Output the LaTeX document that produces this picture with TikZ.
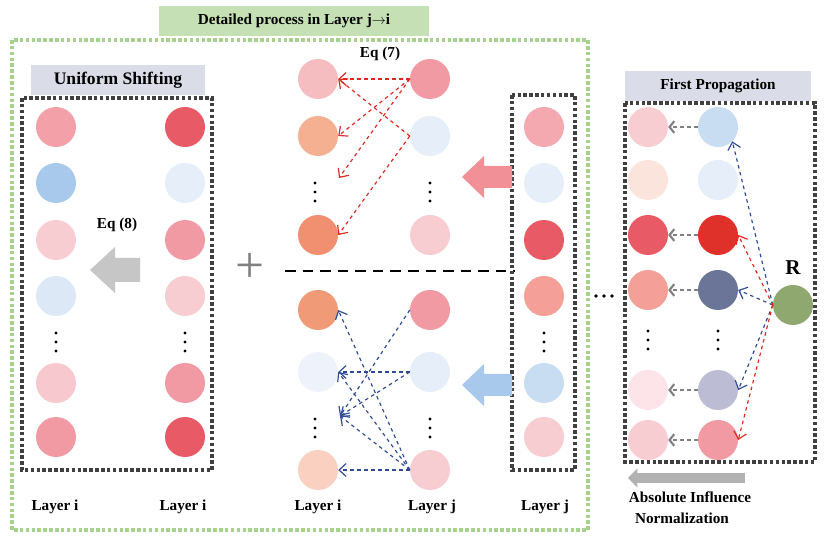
\documentclass[tikz,border=0pt]{standalone}
\usepackage{fontspec}
\setmainfont{Liberation Serif}
\usetikzlibrary{arrows.meta}
\definecolor{gbox}{HTML}{A9D18E}
\definecolor{gtit}{HTML}{C5E0B4}
\definecolor{hdrc}{HTML}{DADCE8}
\definecolor{bln}{HTML}{2F4A9A}
\definecolor{rln}{HTML}{E0281E}
\begin{document}
\begin{tikzpicture}[x=0.03cm,y=-0.03cm,
 c/.style={circle,minimum size=1.2cm,inner sep=0pt,fill=#1},
 lab/.style={font=\bfseries\fontsize{13}{15}\selectfont},
 hdr/.style={fill=#1,minimum height=0.9cm,font=\bfseries\fontsize{13}{15}\selectfont},
 dbox/.style={draw=black!75,line width=3.2pt,dash pattern=on 3pt off 2pt},
 rd/.style={draw=rln,dashed,line width=1pt,-{Straight Barb[length=6pt,width=11pt]}},
 bd/.style={draw=bln,dashed,line width=1pt,-{Straight Barb[length=6pt,width=11pt]}},
 ga/.style={draw=gray,dashed,line width=1.8pt,-{Straight Barb[length=4pt,width=10pt]}}]
\newcommand{\vdt}[2]{\fill (#1,#2-9) circle (1.7) (#1,#2) circle (1.7) (#1,#2+9) circle (1.7);}
\useasboundingbox (0,0) rectangle (832,543);
\fill[white] (0,0) rectangle (832,543);
% outer
\draw[draw=gbox,line width=3.2pt,dash pattern=on 3pt off 2pt] (12,40) rectangle (588,530);
\node[hdr=gtit,minimum width=8.1cm] (title) at (294,21) {Detailed process in Layer j$\rightarrow$i};
% Uniform shifting
\node[hdr=hdrc,minimum width=5.2cm,font=\bfseries\fontsize{15}{17}\selectfont] (us) at (118,80) {Uniform Shifting};
\draw[dbox] (22,98) rectangle (212,470);
\foreach \y/\a/\b [count=\k] in {127/F4A0A8/E85A66,183/A8C8EC/E6EEF9,240/F8CDD2/F29AA4,296/DDE8F6/F8CDD2,383/F8C8CF/F29AA4,437/F29AA4/E85A66}{
 \definecolor{ca}{HTML}{\a}\definecolor{cb}{HTML}{\b}
 \node[c=ca] (ul\k) at (56,\y) {};
 \node[c=cb] (ur\k) at (185,\y) {};}
\vdt{56}{342}\vdt{185}{342}
\node[lab] (eq8) at (117,225) {Eq (8)};
\fill[gray!45] (90,270) -- (115,247) -- (115,258) -- (140,258) -- (140,282) -- (115,282) -- (115,293) -- cycle;
\node[font=\fontsize{44}{44}\selectfont,text=gray] (plus) at (250,268) {+};
% middle
\foreach \y/\a/\b [count=\k] in {79/F6BDC0/F29AA4,136/F4B090/E6EEF9,235/F09070/F8CDD2,310/F09A78/F29AA4,372/EEF2FB/E6EEF9,470/FAD0C0/F8CDD2}{
 \definecolor{ca}{HTML}{\a}\definecolor{cb}{HTML}{\b}
 \node[c=ca] (mi\k) at (318,\y) {};
 \node[c=cb] (mj\k) at (430,\y) {};}
\vdt{315}{192}\vdt{430}{192}\vdt{315}{428}\vdt{430}{428}
\node[lab] (eq7) at (380,54) {Eq (7)};
\coordinate (hl1) at (285,271); \coordinate (hl2) at (515,271);
\draw[line width=2pt,dash pattern=on 9pt off 6pt] (hl1) -- (hl2);
\coordinate (rt) at (339,178); \coordinate (bt) at (340,416);
\draw[rd] (mj1.west) -- (mi1.east);
\draw[rd] (mj1.west) -- (mi2.east);
\draw[rd] (mj1.west) -- (rt);
\draw[rd] (mj2.west) -- (mi1.east);
\draw[rd] (mj2.west) -- (mi3.east);
\draw[bd] (mj4.west) -- (bt);
\draw[bd] (mj5.west) -- (mi5.east);
\draw[bd] (mj5.west) -- (bt);
\draw[bd] (mj6.west) -- (mi4.east);
\draw[bd] (mj6.west) -- (mi5.east);
\draw[bd] (mj6.west) -- (bt);
\draw[bd] (mj6.west) -- (mi6.east);
% layer j
\draw[dbox] (512,95) rectangle (575,470);
\foreach \y/\a [count=\k] in {127/F4A8B0,183/E6EEF9,240/E85A66,296/F4A098,383/C8DCF2,437/F8CDD2}{
 \definecolor{ca}{HTML}{\a}\node[c=ca] (lj\k) at (544,\y) {};}
\vdt{544}{342}
\definecolor{pk}{HTML}{F29098}\definecolor{lb}{HTML}{A8C8EC}
\fill[pk] (462,177) -- (484,156) -- (484,166) -- (512,166) -- (512,188) -- (484,188) -- (484,198) -- cycle;
\fill[lb] (462,385) -- (484,364) -- (484,374) -- (512,374) -- (512,396) -- (484,396) -- (484,406) -- cycle;
\fill (596,296) circle (1.8) (604,296) circle (1.8) (612,296) circle (1.8);
% first propagation
\node[hdr=hdrc,minimum width=5.6cm] (fp) at (718,86) {First Propagation};
\draw[dbox] (625,103) rectangle (815,462);
\foreach \y/\a/\b [count=\k] in {127/F8CDD2/C8DCF2,180/FBE4DC/E6EEF9,235/E85A66/E0302A,290/F4A098/6A7598,390/FCE4E8/BCBCD4,440/F8CDD2/F29AA4}{
 \definecolor{ca}{HTML}{\a}\definecolor{cb}{HTML}{\b}
 \node[c=ca] (fl\k) at (648,\y) {};
 \node[c=cb] (fr\k) at (718,\y) {};}
\vdt{648}{340}\vdt{718}{340}
\foreach \k in {1,3,4,5,6}{\draw[ga] (fr\k.west) -- (fl\k.east);}
\definecolor{rg}{HTML}{8FA870}
\node[c=rg] (R) at (793,305) {};
\node[font=\bfseries\fontsize{18}{18}\selectfont] (Rl) at (793,268) {R};
\draw[bd] (R.west) -- (fr1.south east);
\draw[bd] (R.west) -- (fr4.east);
\draw[bd] (R.west) -- (fr5.east);
\draw[rd] (R.west) -- (fr3.east);
\draw[rd] (R.west) -- (fr6.east);
\coordinate (na1) at (745,478); \coordinate (na2) at (628,478);
\draw[gray!60,line width=8pt,-{Triangle[length=8pt,width=16pt]}] (na1) -- (na2);
\node[lab] (ai) at (690,497) {Absolute Influence};
\node[lab] (nm) at (682,518) {Normalization};
% labels
\node[lab] (l1) at (55,507) {Layer i};
\node[lab] (l2) at (183,507) {Layer i};
\node[lab] (l3) at (318,507) {Layer i};
\node[lab] (l4) at (432,507) {Layer j};
\node[lab] (l5) at (545,507) {Layer j};
\end{tikzpicture}
\end{document}
